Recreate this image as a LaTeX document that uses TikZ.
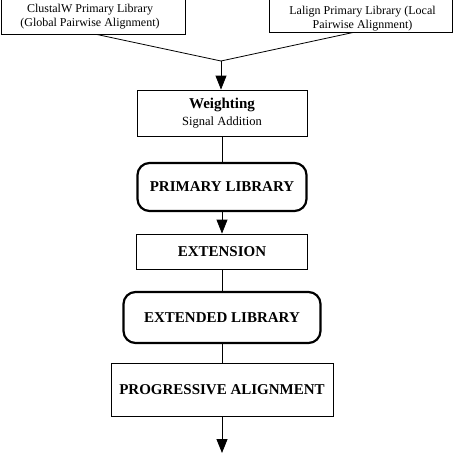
\documentclass[tikz,border=0pt]{standalone}
\usepackage{fontspec}
\setmainfont{Liberation Serif}
\usetikzlibrary{arrows.meta}
\begin{document}
\begin{tikzpicture}[x=1pt,y=-1pt,
  plainbox/.style={draw, line width=0.8pt, inner sep=0pt, align=center},
  libbox/.style={draw, line width=2.2pt, rounded corners=12pt, inner sep=0pt, align=center,
    font=\fontsize{15}{17}\selectfont\bfseries},
  stepfont/.style={font=\fontsize{15}{17}\selectfont\bfseries},
  txt/.style={inner sep=0pt, align=center, font=\fontsize{12}{14}\selectfont},
  conn/.style={line width=0.8pt},
  arr/.style={line width=0.8pt, -{Triangle[length=14pt,width=11pt]}}]
\useasboundingbox (0,0) rectangle (453,453);
% top input boxes
\node[plainbox, minimum width=184pt, minimum height=60pt, anchor=south] (cw) at (93,34.5) {};
\node[txt] (cwt) at (90,17) {ClustalW Primary Library\\(Global Pairwise Alignment)};
\node[plainbox, minimum width=183pt, minimum height=60pt, anchor=south] (lal) at (360.5,32.5) {};
\node[txt] (lalt) at (362.5,19) {Lalign Primary Library (Local\\Pairwise Alignment)};
\coordinate (j) at (221,61);
% main column
\node[plainbox, minimum width=170pt, minimum height=46pt, font=\fontsize{12.5}{17}\selectfont] (wt) at (222,113)
  {{\fontsize{15}{17}\selectfont\bfseries Weighting}\\Signal Addition};
\node[libbox, minimum width=169pt, minimum height=48pt] (pl) at (222,187) {PRIMARY LIBRARY};
\node[plainbox, stepfont, minimum width=171pt, minimum height=35pt] (ext) at (222,251.5) {EXTENSION};
\node[libbox, minimum width=197pt, minimum height=51pt] (exl) at (222,317.5) {EXTENDED LIBRARY};
\node[plainbox, stepfont, minimum width=222pt, minimum height=53pt] (prog) at (222,389.5) {PROGRESSIVE ALIGNMENT};
\coordinate (out) at (222,453);
% connectors
\draw[conn] ([xshift=4pt]cw.south) -- (j);
\draw[conn] ([xshift=-7.5pt]lal.south) -- (j);
\draw[arr] (j) -- (j |- wt.north);
\draw[conn] (wt) -- (pl);
\draw[arr] (pl) -- (ext);
\draw[conn] (ext) -- (exl);
\draw[conn] (exl) -- (prog);
\draw[arr] (prog) -- (out);
\end{tikzpicture}
\end{document}
